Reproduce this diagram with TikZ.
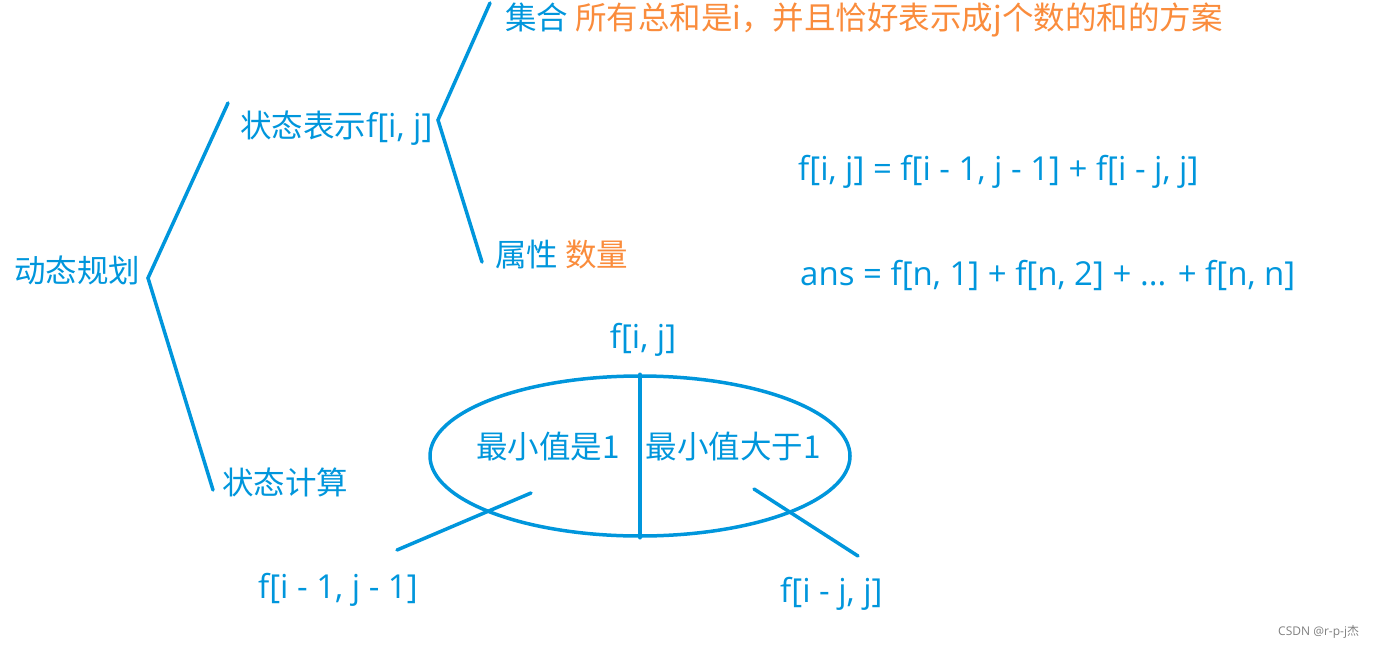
\documentclass[tikz,border=0pt]{standalone}
\usepackage{fontspec}
\setmainfont{Open Sans}
\newfontfamily\cjk{Noto Sans CJK SC}
\newcommand{\zh}[1]{{\cjk\fontsize{31.5}{33}\selectfont #1}}
\usetikzlibrary{positioning, shapes.geometric}
\definecolor{lineblue}{RGB}{0,150,220}
\definecolor{textorange}{RGB}{250,140,60}

\begin{document}
\begin{tikzpicture}[
    x=1pt, y=-1pt,
    txt/.style={font=\fontsize{33}{35}\selectfont, text=lineblue, inner sep=0pt, anchor=west},
    branch/.style={draw=lineblue, line width=3.5pt, line cap=round},
    split/.style={draw=lineblue, line width=3.5pt, ellipse, minimum width=420pt, minimum height=160pt, inner sep=0pt}
]
    \useasboundingbox (0,0) rectangle (1380,648);

    % Root and first bracket
    \node[txt] (dp) at (14,270) {\zh{动态规划}};
    \coordinate (dpfork) at (148,278);
    \coordinate (dptop) at (228,103);
    \coordinate (dpbot) at (213,490);
    \draw[branch] (dptop) -- (dpfork) -- (dpbot);

    \node[txt] (state) at (240,128) {\zh{状态表示}f[i, j]};
    \node[txt] (calc) at (222,482) {\zh{状态计算}};

    % Second bracket
    \coordinate (stfork) at (438,120);
    \coordinate (sttop) at (490,3);
    \coordinate (stbot) at (482,262);
    \draw[branch] (sttop) -- (stfork) -- (stbot);

    \node[txt] (set) at (505,20) {\zh{集合 \textcolor{textorange}{所有总和是i，并且恰好表示成j个数的和的方案}}};
    \node[txt] (attr) at (495,255) {\zh{属性 \textcolor{textorange}{数量}}};

    % Equations
    \node[txt] (rec) at (798,172) {f[i, j] = f[i - 1, j - 1] + f[i - j, j]};
    \node[txt] (ans) at (800,275) {ans = f[n, 1] + f[n, 2] + ... + f[n, n]};

    % Split of the set
    \node[split] (ell) at (640,456) {};
    \draw[branch] (ell.north) -- (ell.south);
    \node[txt, anchor=center] (top) at (643,340) {f[i, j]};
    \node[txt, anchor=center] (left) at (548,447) {\zh{最小值是1}};
    \node[txt, anchor=center] (right) at (733,447) {\zh{最小值大于1}};

    \coordinate (la) at (531,493);
    \coordinate (lb) at (397,550);
    \draw[branch] (la) -- (lb);
    \coordinate (ra) at (754,489);
    \coordinate (rb) at (858,556);
    \draw[branch] (ra) -- (rb);

    \node[txt] (sub1) at (258,590) {f[i - 1, j - 1]};
    \node[txt] (sub2) at (780,594) {f[i - j, j]};

    % Watermark
    \node[txt, font=\fontsize{12}{14}\selectfont, text=gray] (mark) at (1278,632) {CSDN @r-p-j{\cjk 杰}};
\end{tikzpicture}
\end{document}
